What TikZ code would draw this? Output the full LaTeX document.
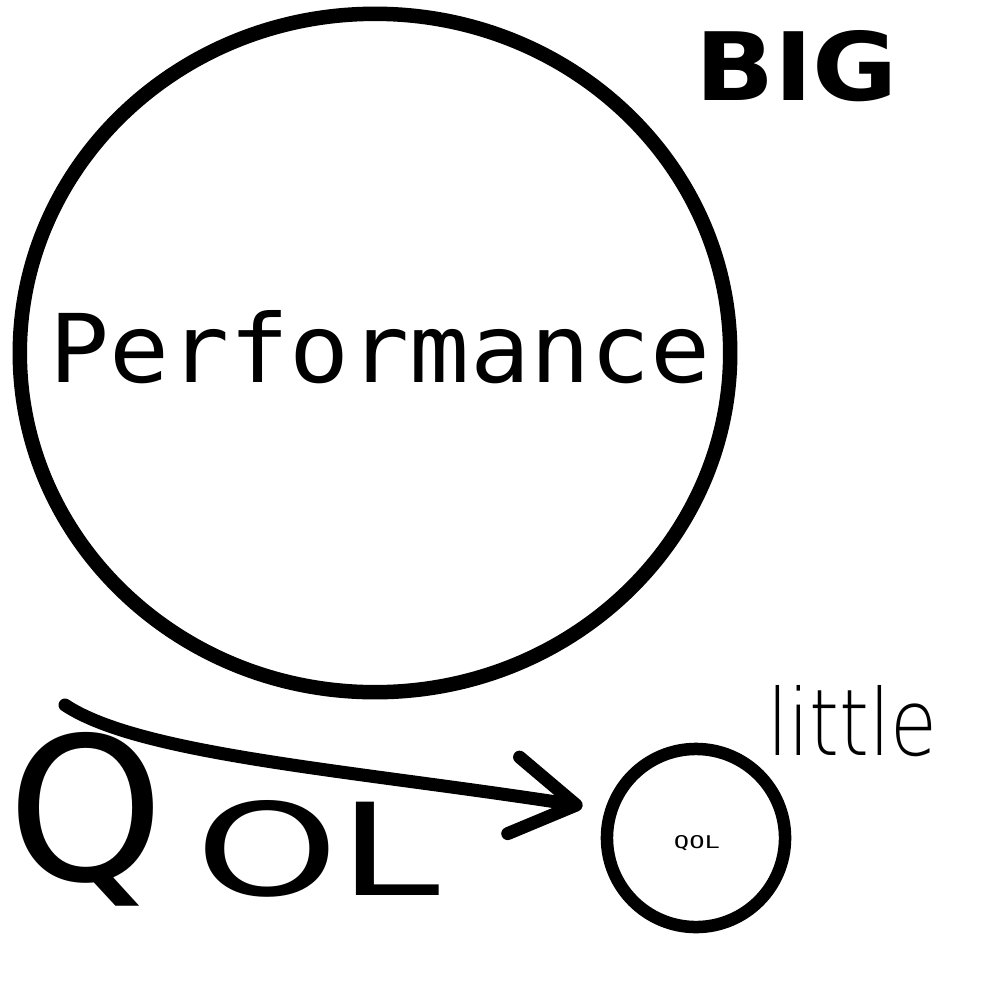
\documentclass[tikz,border=0pt]{standalone}
\usepackage{fontspec}
\usetikzlibrary{shapes.geometric,arrows.meta}
\newfontfamily\pixfont{DejaVu Sans Mono}
\newfontfamily\handfont{DejaVu Sans}
\newfontfamily\thinfont{DejaVu Sans ExtraLight}
\begin{document}
\begin{tikzpicture}[x=0.01cm,y=-0.01cm,
  bubble/.style={draw=black, fill=none, inner sep=0pt, outer sep=0pt},
  handtext/.style={inner sep=0pt, outer sep=0pt},
  stroke/.style={line width=0.13cm, line cap=round, line join=round},
]
\useasboundingbox[fill=white] (0,0) rectangle (1000,1000);
% big circle
\node[bubble, ellipse, line width=0.145cm, minimum width=7.1cm, minimum height=6.78cm] (perf) at (375,353) {};
\node[handtext] (perftext) at (380,347) {\resizebox{6.6cm}{0.72cm}{\pixfont Performance}};
% small circle
\node[bubble, circle, line width=0.125cm, minimum size=1.78cm] (qol) at (696,838) {};
\node[handtext] (qoltext) at (697,843) {\resizebox{0.46cm}{0.13cm}{\pixfont QOL}};
% handwritten labels
\node[handtext, anchor=north west] (big) at (695,30) {\resizebox{2.03cm}{0.7cm}{\handfont\bfseries BIG}};
\node[handtext, anchor=north west] (little) at (767,685) {\resizebox{1.7cm}{0.7cm}{\thinfont little}};
\node[handtext, anchor=base west] (qolhand) at (8,895)
  {\handfont\raisebox{0.15cm}{\resizebox{1.57cm}{!}{Q}}\hspace{0.3cm}\resizebox{2.45cm}{0.95cm}{OL}};
% arrow
\coordinate (arrowstart) at (65,705);
\draw[stroke, -{Straight Barb[round, length=18pt, width=22pt]}, shorten >=0.29cm]
  (arrowstart) .. controls (140,755) and (350,770) .. (qol.162);
\end{tikzpicture}
\end{document}
